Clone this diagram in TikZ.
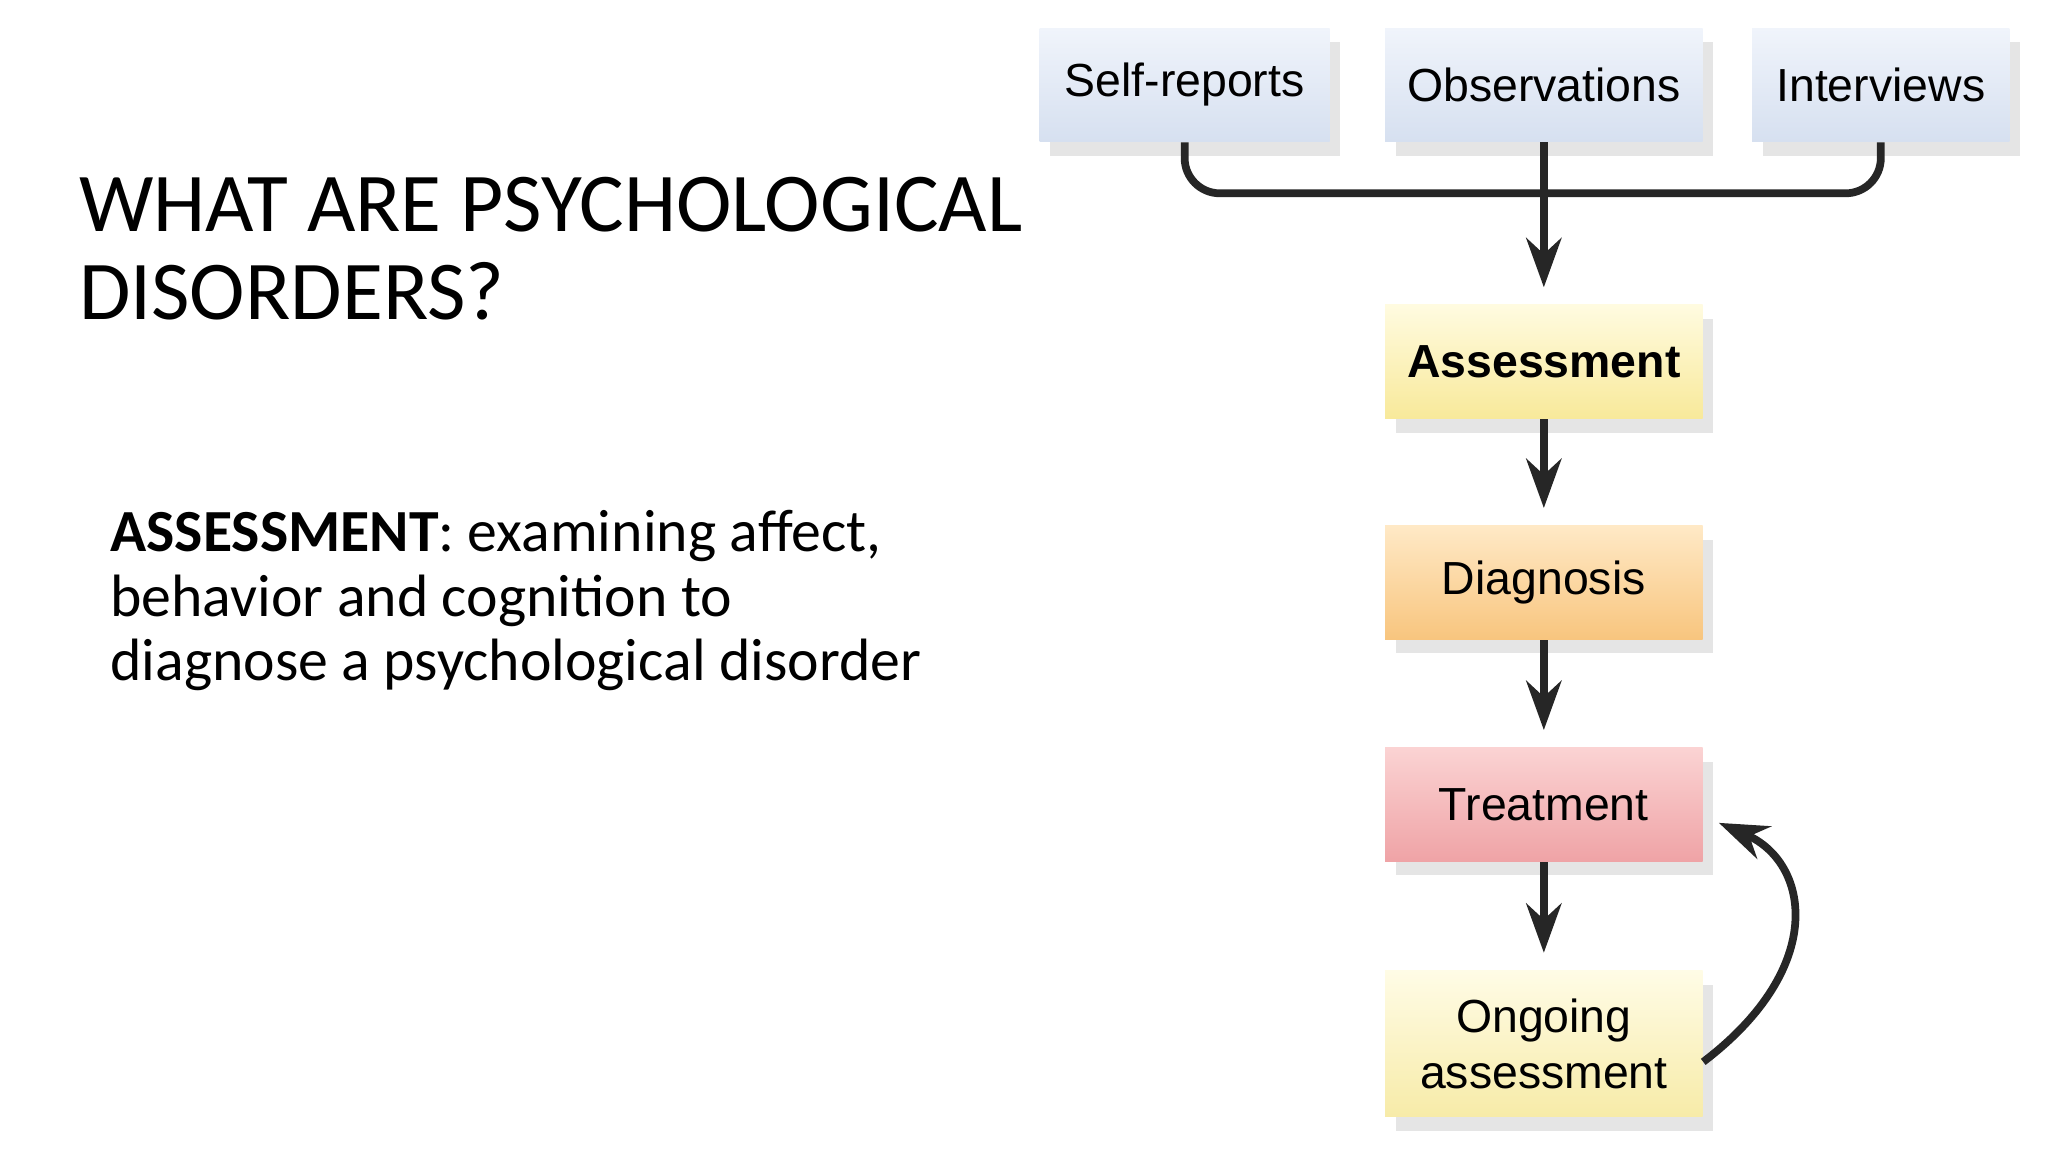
\documentclass[tikz,border=0pt]{standalone}
\usepackage{fontspec}
\setmainfont{Carlito}
\newfontfamily\hv{Liberation Sans}
\usetikzlibrary{shadows,arrows.meta}
\definecolor{bT}{HTML}{F0F4FB}\definecolor{bB}{HTML}{D6E0F0}
\definecolor{aT}{HTML}{FFFBE0}\definecolor{aB}{HTML}{F8E99A}
\definecolor{dT}{HTML}{FFE9C6}\definecolor{dB}{HTML}{F8C57E}
\definecolor{tT}{HTML}{FBD3D3}\definecolor{tB}{HTML}{EFA3A6}
\definecolor{oT}{HTML}{FFFCE6}\definecolor{oB}{HTML}{F7EBA8}
\begin{document}
\begin{tikzpicture}[x=0.01306cm,y=-0.01306cm,
 box/.style={draw=none,font=\hv\fontsize{13.2}{16}\selectfont,align=center,
   drop shadow={shadow xshift=3pt,shadow yshift=-4pt,fill=black!25,opacity=0.4}},
 bx/.style={box,top color=#1T,bottom color=#1B},
 con/.style={line width=2.2pt,black!85},
 arr/.style={con,-{Stealth[length=14pt,width=10pt]}}]
\def\pgfunit{*0.01306cm}
\useasboundingbox (0,0) rectangle (1568,882);
\fill[white] (0,0) rectangle (1568,882);
\node[anchor=base west,inner sep=0,font=\fontsize{23.8}{28}\selectfont,align=left] (title) at (60,177) {WHAT ARE PSYCHOLOGICAL};
\node[anchor=base west,inner sep=0,font=\fontsize{23.8}{28}\selectfont,align=left] (title2) at (60,245) {DISORDERS?};
\node[anchor=north west,font=\fontsize{17}{18.4}\selectfont,align=left,inner sep=0] (def) at (84,390)
 {\textbf{ASSESSMENT}: examining affect,\\behavior and cognition to\\diagnose a psychological disorder};
\node[bx=b,minimum width=222\pgfunit,minimum height=87\pgfunit] (sr) at (907,65) {Self-reports};
\node[bx=b,minimum width=243\pgfunit,minimum height=87\pgfunit] (ob) at (1182,65) {Observations};
\node[bx=b,minimum width=197\pgfunit,minimum height=87\pgfunit] (iv) at (1440,65) {Interviews};
\node[bx=a,minimum width=243\pgfunit,minimum height=87\pgfunit,font=\hv\bfseries\fontsize{13.2}{16}\selectfont] (as) at (1182,277) {Assessment};
\node[bx=d,minimum width=243\pgfunit,minimum height=87\pgfunit] (dg) at (1182,446) {Diagnosis};
\node[bx=t,minimum width=243\pgfunit,minimum height=87\pgfunit] (tr) at (1182,616) {Treatment};
\node[bx=o,minimum width=243\pgfunit,minimum height=112\pgfunit] (og) at (1182,799) {Ongoing\\assessment};
\coordinate (j) at (1182,148);
\draw[con,rounded corners=10pt] (sr.south) |- (j) -| (iv.south);
\draw[arr] (ob.south) -- ([yshift=13\pgfunit]as.north);
\draw[arr] (as.south) -- ([yshift=13\pgfunit]dg.north);
\draw[arr] (dg.south) -- ([yshift=13\pgfunit]tr.north);
\draw[arr] (tr.south) -- ([yshift=13\pgfunit]og.north);
\coordinate (e) at (1316,630);
\draw[arr] ([yshift=-14\pgfunit]og.east) .. controls (1400,740) and (1385,660) .. (e);
\end{tikzpicture}
\end{document}
